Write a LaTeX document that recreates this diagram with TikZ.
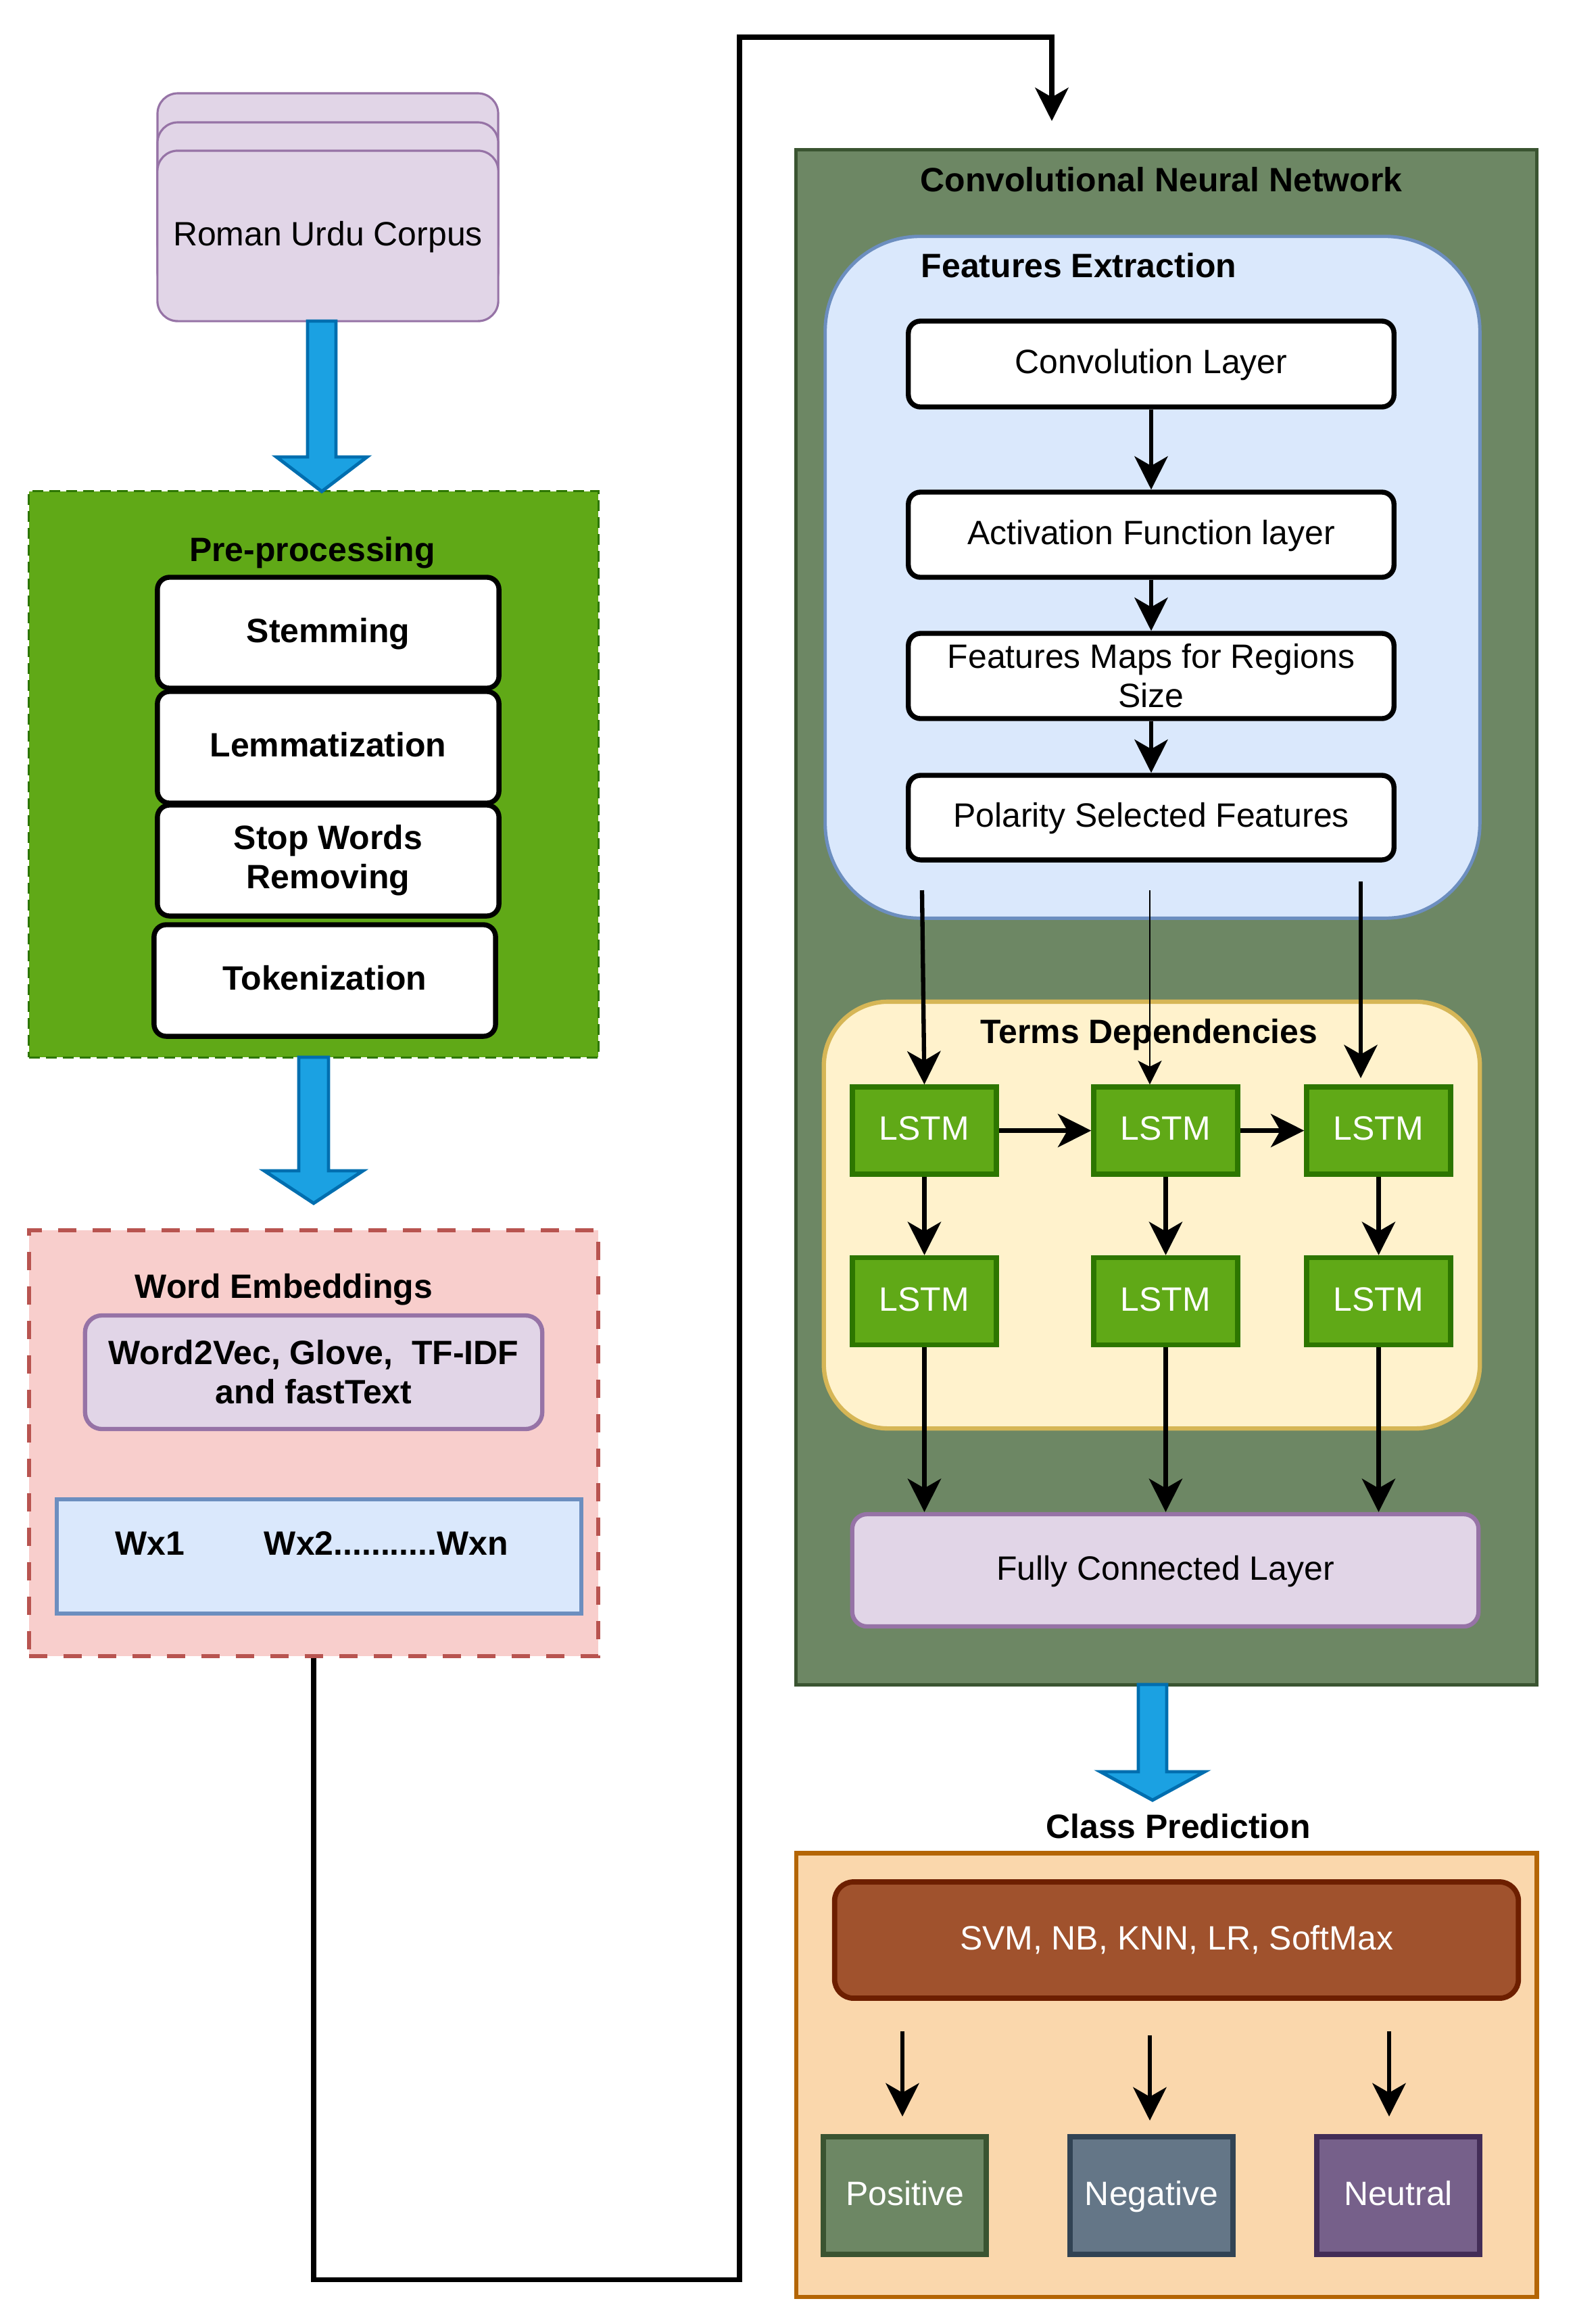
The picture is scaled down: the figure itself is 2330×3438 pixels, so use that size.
\documentclass[tikz,border=0pt]{standalone}
\usepackage{fontspec}
\setmainfont{Liberation Sans}
\usetikzlibrary{arrows.meta,calc}
\definecolor{purpF}{HTML}{E1D5E7}
\definecolor{purpD}{HTML}{9673A6}
\definecolor{blueF}{HTML}{1BA1E2}
\definecolor{blueD}{HTML}{006EAF}
\definecolor{grnF}{HTML}{60A917}
\definecolor{grnD}{HTML}{2D7600}
\definecolor{redF}{HTML}{F8CECC}
\definecolor{redD}{HTML}{B85450}
\definecolor{lbF}{HTML}{DAE8FC}
\definecolor{lbD}{HTML}{6C8EBF}
\definecolor{olF}{HTML}{6D8764}
\definecolor{olD}{HTML}{3A5431}
\definecolor{yelF}{HTML}{FFF2CC}
\definecolor{yelD}{HTML}{D6B656}
\definecolor{orF}{HTML}{FAD7AC}
\definecolor{orD}{HTML}{B46504}
\definecolor{brF}{HTML}{A0522D}
\definecolor{brD}{HTML}{6D1F00}
\definecolor{slF}{HTML}{647687}
\definecolor{slD}{HTML}{314354}
\definecolor{vioF}{HTML}{76608A}
\definecolor{vioD}{HTML}{432D57}
\tikzset{
  basebox/.style={inner sep=0pt, align=center},
  oneline/.style={text height=1.0em, text depth=0.18em},
  blackbox/.style={basebox, draw=black, fill=white, line width=2.1pt, rounded corners=0.18cm},
  lstmbox/.style={basebox, oneline, draw=grnD, fill=grnF, line width=2.1pt, text=white, minimum width=2.13cm, minimum height=1.29cm},
  classbox/.style={basebox, oneline, line width=2.2pt, text=white, minimum width=2.41cm, minimum height=1.74cm},
  titletext/.style={inner sep=0pt, oneline, font=\fontsize{14.2}{16.5}\selectfont\bfseries},
  arr/.style={line width=1.8pt, -{Stealth[length=14pt,width=14pt,inset=4pt]}},
  thinarr/.style={line width=0.6pt, -{Stealth[length=10pt,width=10pt,inset=2.5pt]}},
  bigconn/.style={line width=2pt, -{Stealth[length=14pt,width=14pt,inset=4pt]}},
  blockarr/.style={fill=blueF, draw=blueD, line width=1.4pt, line join=miter},
}
\begin{document}
\begin{tikzpicture}[x=0.01cm, y=-0.01cm, font=\fontsize{14.2}{16.5}\selectfont]
\useasboundingbox (0,0) rectangle (2330,3438);

% ---------- Roman Urdu Corpus ----------
\draw[draw=purpD, fill=purpF, line width=0.9pt, rounded corners=0.3cm] (233,138) rectangle (737,391);
\draw[draw=purpD, fill=purpF, line width=0.9pt, rounded corners=0.3cm] (233,181) rectangle (737,433);
\node[basebox, oneline, draw=purpD, fill=purpF, line width=0.9pt, rounded corners=0.3cm,
      minimum width=5.04cm, minimum height=2.52cm] (corpus) at (485,349) {Roman Urdu Corpus};

% ---------- Pre-processing ----------
\node[basebox, draw=grnD, fill=grnF, line width=0.9pt, dash pattern=on 0.16cm off 0.09cm,
      minimum width=8.42cm, minimum height=8.37cm] (pre) at (464,1145.5) {};
\node[titletext] (pretitle) at (462,816) {Pre-processing};
\node[blackbox, oneline, minimum width=5.05cm, minimum height=1.64cm, font=\fontsize{14.2}{16.5}\selectfont\bfseries] (stem) at (485.5,936) {Stemming};
\node[blackbox, oneline, minimum width=5.05cm, minimum height=1.65cm, font=\fontsize{14.2}{16.5}\selectfont\bfseries] (lem) at (485.5,1105.5) {Lemmatization};
\node[blackbox, minimum width=5.05cm, minimum height=1.64cm, font=\fontsize{14.2}{16.5}\selectfont\bfseries] (stop) at (485.5,1273) {Stop Words\\Removing};
\node[blackbox, oneline, minimum width=5.05cm, minimum height=1.65cm, font=\fontsize{14.2}{16.5}\selectfont\bfseries] (tok) at (480.5,1450.5) {Tokenization};

% ---------- Word Embeddings ----------
\node[basebox, draw=redD, fill=redF, line width=1.7pt, dash pattern=on 0.27cm off 0.24cm,
      minimum width=8.42cm, minimum height=6.30cm] (we) at (464,2135) {};
\node[titletext] (wetitle) at (420,1906) {Word Embeddings};
\node[basebox, draw=purpD, fill=purpF, line width=1.8pt, rounded corners=0.25cm,
      minimum width=6.76cm, minimum height=1.68cm, font=\fontsize{14.2}{16.5}\selectfont\bfseries] (w2v) at (464,2030) {Word2Vec, Glove,\ \ TF-IDF\\and fastText};
\node[basebox, draw=lbD, fill=lbF, line width=1.8pt,
      minimum width=7.76cm, minimum height=1.69cm] (wx) at (472,2302.5) {};
\node[titletext] (wxtext) at (461,2286) {Wx1\hspace{1.18cm}Wx2...........Wxn};

% ---------- CNN ----------
\node[basebox, draw=olD, fill=olF, line width=1.3pt,
      minimum width=10.95cm, minimum height=22.70cm] (cnn) at (1725.5,1357) {};
\node[titletext] (cnntitle) at (1718,269) {Convolutional Neural Network};

\node[basebox, draw=lbD, fill=lbF, line width=1.4pt, rounded corners=1.4cm,
      minimum width=9.68cm, minimum height=10.08cm] (fe) at (1705,854) {};
\node[titletext] (fetitle) at (1596,396) {Features Extraction};
\node[blackbox, oneline, minimum width=7.18cm, minimum height=1.27cm] (conv) at (1703,538.5) {Convolution Layer};
\node[blackbox, oneline, minimum width=7.18cm, minimum height=1.26cm] (act) at (1703,791) {Activation Function layer};
\node[blackbox, minimum width=7.18cm, minimum height=1.26cm] (fm) at (1703,1000) {Features Maps for Regions\\Size};
\node[blackbox, oneline, minimum width=7.18cm, minimum height=1.25cm] (pol) at (1703,1209.5) {Polarity Selected Features};

\node[basebox, draw=yelD, fill=yelF, line width=1.8pt, rounded corners=0.95cm,
      minimum width=9.70cm, minimum height=6.31cm] (td) at (1704,1797.5) {};

\node[lstmbox] (l1) at (1367.5,1672.5) {LSTM};
\node[lstmbox] (l2) at (1724.5,1672.5) {LSTM};
\node[lstmbox] (l3) at (2039.5,1672.5) {LSTM};
\node[lstmbox] (m1) at (1367.5,1925) {LSTM};
\node[lstmbox] (m2) at (1724.5,1925) {LSTM};
\node[lstmbox] (m3) at (2039.5,1925) {LSTM};

\node[basebox, oneline, draw=purpD, fill=purpF, line width=1.8pt, rounded corners=0.22cm,
      minimum width=9.26cm, minimum height=1.66cm] (fc) at (1724,2323) {Fully Connected Layer};

% arrows inside FE
\draw[arr] (conv) -- (act);
\draw[arr] (act) -- (fm);
\draw[arr] (fm) -- (pol);

% arrows from FE to LSTM
\coordinate (p1) at (1364,1317);
\coordinate (p2) at (1701,1317);
\coordinate (p3) at (2013,1304);
\coordinate (q3) at (2013,1595);
\draw[arr] (p1) -- (l1.north);
\draw[arr] (p3) -- (q3);
\node[titletext] (tdtitle) at (1700,1529) {Terms Dependencies};
\draw[thinarr] (p2) -- (p2 |- l2.north);

% LSTM arrows
\draw[arr] (l1) -- (l2);
\draw[arr] (l2) -- (l3);
\draw[arr] (l1) -- (m1);
\draw[arr] (l2) -- (m2);
\draw[arr] (l3) -- (m3);
\draw[arr] (m1.south) -- (m1.south |- fc.north);
\draw[arr] (m2.south) -- (m2.south |- fc.north);
\draw[arr] (m3.south) -- (m3.south |- fc.north);

% ---------- Class Prediction ----------
\node[titletext] (cptitle) at (1743,2705) {Class Prediction};
\node[basebox, draw=orD, fill=orF, line width=1.8pt,
      minimum width=10.95cm, minimum height=6.56cm] (cp) at (1725.5,3069.5) {};
\node[basebox, oneline, draw=brD, fill=brF, line width=2.2pt, rounded corners=0.28cm, text=white,
      minimum width=10.11cm, minimum height=1.72cm] (svm) at (1740.5,2870) {SVM, NB, KNN, LR, SoftMax};
\node[classbox, draw=olD, fill=olF] (pos) at (1338.5,3248) {Positive};
\node[classbox, draw=slD, fill=slF] (neg) at (1703.5,3248) {Negative};
\node[classbox, draw=vioD, fill=vioF] (neu) at (2068.5,3248) {Neutral};

\coordinate (s1) at (1335,3005);
\coordinate (t1) at (1335,3131);
\coordinate (s2) at (1701,3011);
\coordinate (t2) at (1701,3137);
\coordinate (s3) at (2055,3005);
\coordinate (t3) at (2055,3131);
\draw[arr] (s1) -- (t1);
\draw[arr] (s2) -- (t2);
\draw[arr] (s3) -- (t3);

% ---------- Block arrows ----------
\coordinate (b1s) at (476,475);
\coordinate (b1t) at (476,727);
\draw[blockarr] ($(b1s)+(-21,0)$) -- ($(b1t)+(-21,-51)$) -- ($(b1t)+(-67,-51)$) -- (b1t)
  -- ($(b1t)+(67,-51)$) -- ($(b1t)+(21,-51)$) -- ($(b1s)+(21,0)$) -- cycle;

\coordinate (b2s) at (464,1564);
\coordinate (b2t) at (464,1780);
\draw[blockarr] ($(b2s)+(-22,0)$) -- ($(b2t)+(-22,-48)$) -- ($(b2t)+(-73,-48)$) -- (b2t)
  -- ($(b2t)+(73,-48)$) -- ($(b2t)+(22,-48)$) -- ($(b2s)+(22,0)$) -- cycle;

\coordinate (b3s) at (1705,2492);
\coordinate (b3t) at (1705,2663);
\draw[blockarr] ($(b3s)+(-21,0)$) -- ($(b3t)+(-21,-42)$) -- ($(b3t)+(-77,-42)$) -- (b3t)
  -- ($(b3t)+(77,-42)$) -- ($(b3t)+(21,-42)$) -- ($(b3s)+(21,0)$) -- cycle;

% ---------- Long connector ----------
\coordinate (c1) at (1094,3372);
\coordinate (c2) at (1094,55);
\coordinate (ctip) at (1556,179);
\draw[bigconn, line join=miter] (we.south) |- (c1) -- (c2) -| (ctip);

\end{tikzpicture}
\end{document}
